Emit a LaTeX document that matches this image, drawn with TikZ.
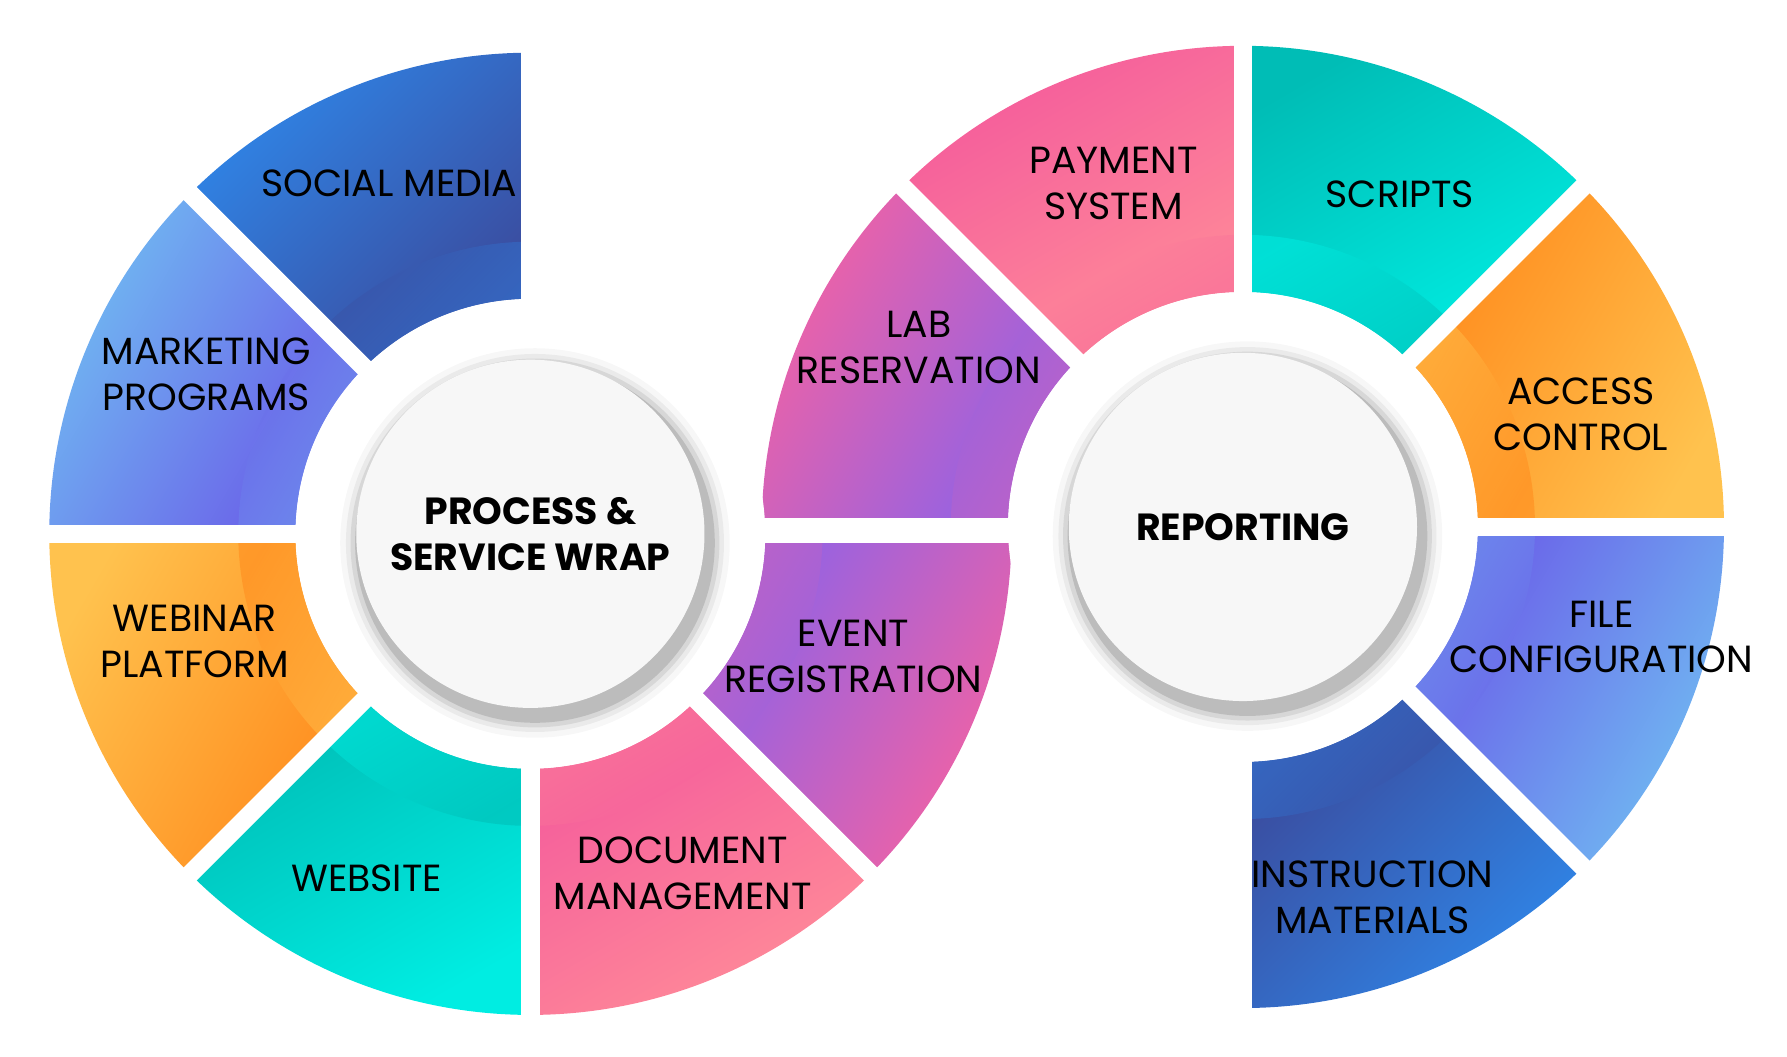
\documentclass[tikz,border=0pt]{standalone}
\usepackage{fontspec}
\setmainfont{Poppins}
\usetikzlibrary{calc}
\definecolor{bA}{HTML}{2F86E8}\definecolor{bB}{HTML}{3B4A9C}
\definecolor{lA}{HTML}{70BCF2}\definecolor{lB}{HTML}{6A5AE8}
\definecolor{oA}{HTML}{FFC24E}\definecolor{oB}{HTML}{FF8A1C}
\definecolor{tA}{HTML}{00BDB6}\definecolor{tB}{HTML}{00EDE2}
\definecolor{pA}{HTML}{F45A9C}\definecolor{pB}{HTML}{FF8C98}
\definecolor{vA}{HTML}{8A62EA}\definecolor{vB}{HTML}{F462A2}
\newcommand\myseg[6]{%
 \path[left color=#4,right color=#5,shading angle=#6] ($(#1)+(#2:205)$) arc[start angle=#2,end angle=#3,radius=205] -- ($(#1)+(#3:420)$) arc[start angle=#3,end angle=#2,radius=420] -- cycle;
 \path[left color=#5,right color=#4,shading angle=#6,opacity=0.55] ($(#1)+(#2:205)$) arc[start angle=#2,end angle=#3,radius=205] -- ($(#1)+(#3:255)$) arc[start angle=#3,end angle=#2,radius=255] -- cycle;}
\tikzset{lbl/.style={align=center,font=\fontsize{16.5}{20}\selectfont},
 hub/.style={circle,fill=gray!6,minimum size=152pt,inner sep=0pt,align=center,font=\fontsize{16.5}{20}\selectfont\bfseries},
 gap/.style={white,line width=8pt}}
\begin{document}
\begin{tikzpicture}[x=0.5pt,y=0.5pt]
\useasboundingbox (0,0) rectangle (1560,922);
\coordinate (L) at (463,456);
\coordinate (R) at (1085,462);
% left ring
\myseg{L}{90}{135}{bA}{bB}{45}
\myseg{L}{135}{180}{lA}{lB}{60}
\myseg{L}{180}{225}{oA}{oB}{60}
\myseg{L}{225}{270}{tA}{tB}{30}
\myseg{L}{270}{315}{pA}{pB}{30}
\myseg{L}{315}{360}{vA}{vB}{60}
% right ring
\myseg{R}{135}{180}{vB}{vA}{60}
\myseg{R}{90}{135}{pA}{pB}{30}
\myseg{R}{45}{90}{tA}{tB}{30}
\myseg{R}{0}{45}{oB}{oA}{60}
\myseg{R}{-45}{0}{lB}{lA}{60}
\myseg{R}{-90}{-45}{bB}{bA}{45}
% gaps
\foreach \a in {90,135,180,225,270,315,360} \draw[gap] (L) -- ($(L)+(\a:440)$);
\foreach \a in {-90,-45,0,45,90,135,180} \draw[gap] (R) -- ($(R)+(\a:440)$);
\fill[white] (L) circle[radius=205];
\fill[white] (R) circle[radius=205];
% shadows
\foreach \r/\o in {170/0.03,165/0.05,161/0.08,157/0.12}{
 \fill[black,opacity=\o] ($(L)+(4,-8)$) circle[radius=\r];
 \fill[black,opacity=\o] ($(R)+(4,-8)$) circle[radius=\r];}
\node[hub] (hubL) at (L) {PROCESS \&\\SERVICE WRAP};
\node[hub] (hubR) at (R) {REPORTING};
% labels
\node[lbl] (sm) at (340,762) {SOCIAL MEDIA};
\node[lbl] (mp) at (180,595) {MARKETING\\PROGRAMS};
\node[lbl] (wp) at (170,362) {WEBINAR\\PLATFORM};
\node[lbl] (ws) at (320,155) {WEBSITE};
\node[lbl] (dm) at (596,160) {DOCUMENT\\MANAGEMENT};
\node[lbl] (er) at (745,349) {EVENT\\REGISTRATION};
\node[lbl] (lr) at (802,619) {LAB\\RESERVATION};
\node[lbl] (ps) at (972,762) {PAYMENT\\SYSTEM};
\node[lbl] (sc) at (1222,752) {SCRIPTS};
\node[lbl] (ac) at (1380,560) {ACCESS\\CONTROL};
\node[lbl] (fc) at (1398,366) {FILE\\CONFIGURATION};
\node[lbl] (im) at (1198,139) {INSTRUCTION\\MATERIALS};
\end{tikzpicture}
\end{document}
